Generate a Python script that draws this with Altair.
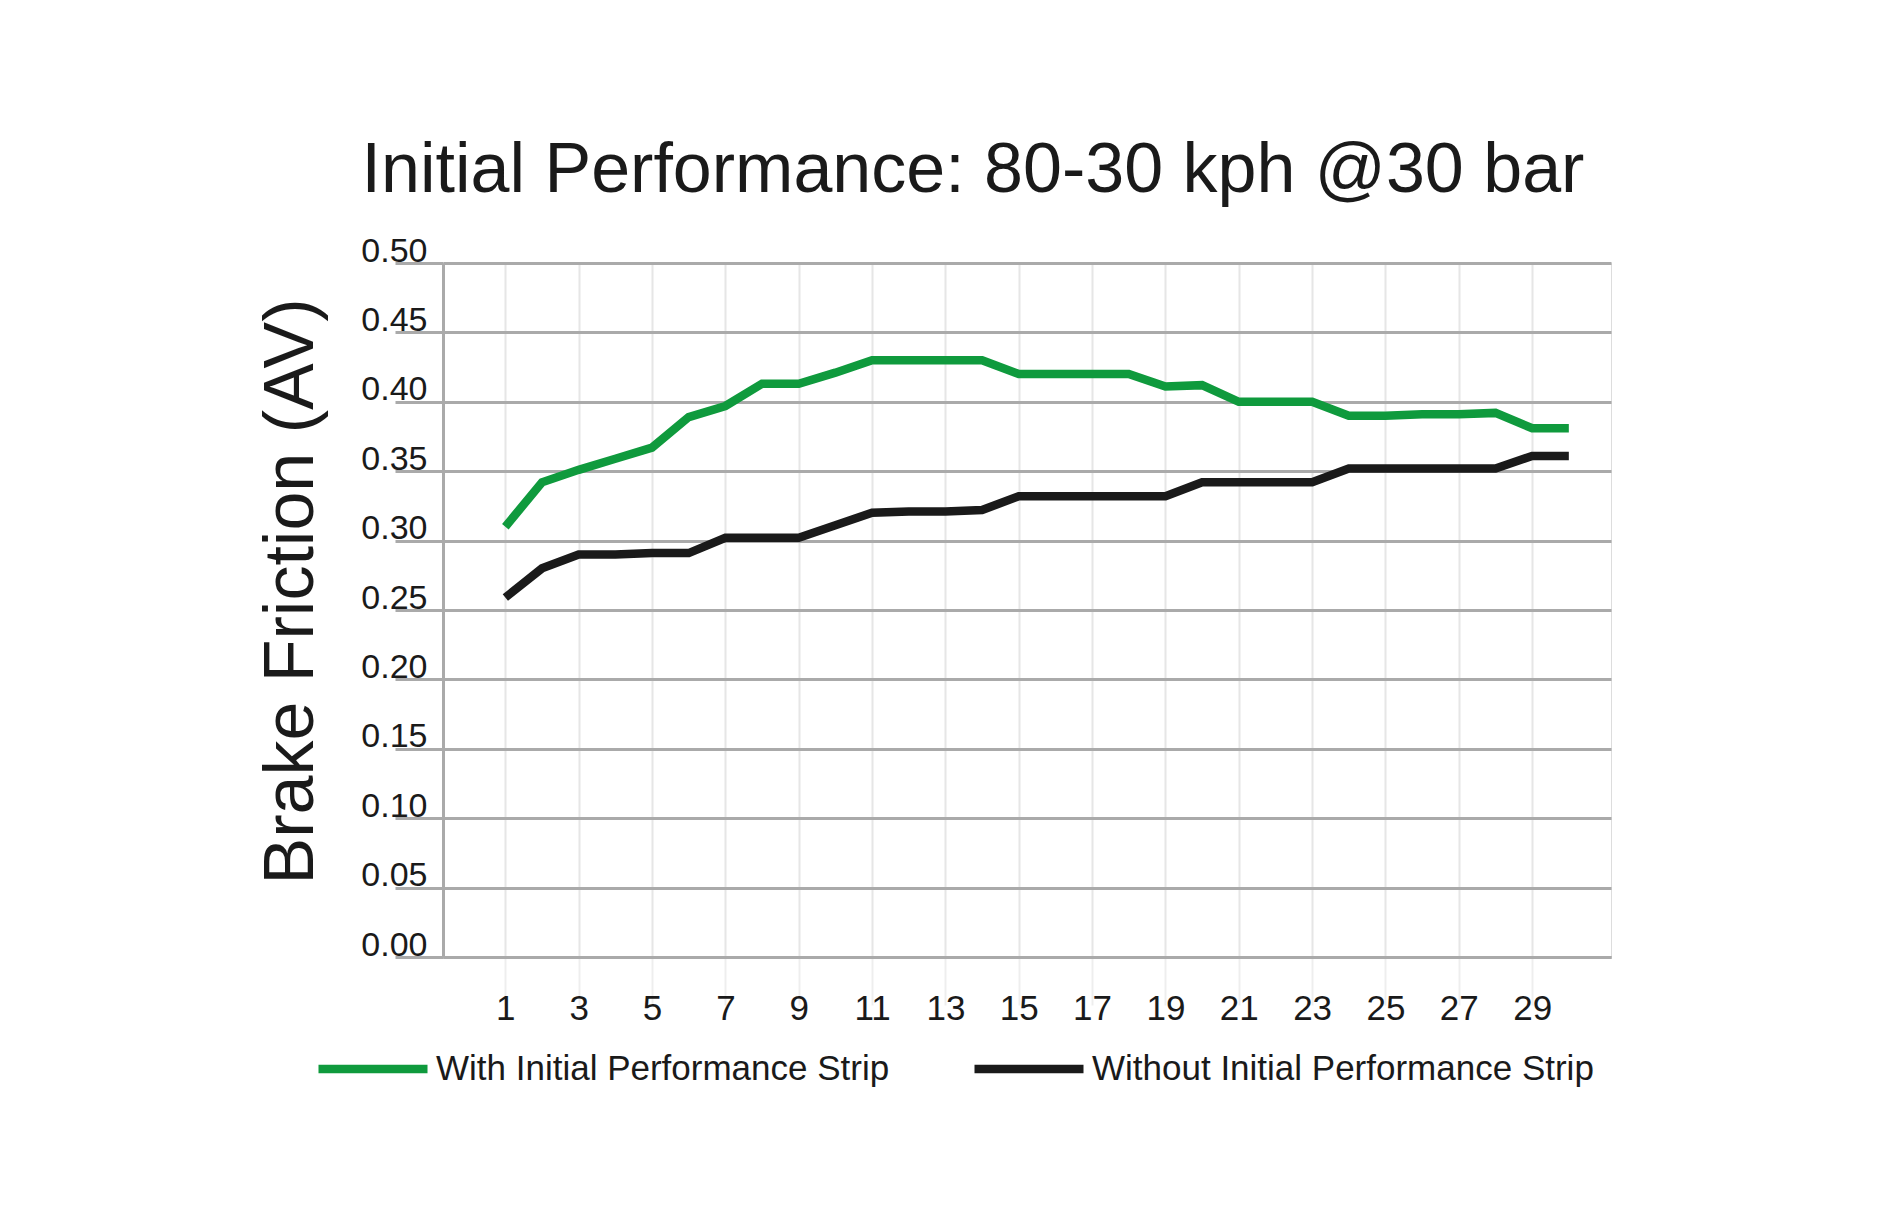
import altair as alt
import pandas as pd

runs = list(range(1, 31))
with_strip = [
    0.310, 0.342, 0.351, 0.359, 0.367, 0.389, 0.397, 0.413, 0.413, 0.421,
    0.430, 0.430, 0.430, 0.430, 0.420, 0.420, 0.420, 0.420, 0.411, 0.412,
    0.400, 0.400, 0.400, 0.390, 0.390, 0.391, 0.391, 0.392, 0.381, 0.381,
]
without_strip = [
    0.259, 0.280, 0.290, 0.290, 0.291, 0.291, 0.302, 0.302, 0.302, 0.311,
    0.320, 0.321, 0.321, 0.322, 0.332, 0.332, 0.332, 0.332, 0.332, 0.342,
    0.342, 0.342, 0.342, 0.352, 0.352, 0.352, 0.352, 0.352, 0.361, 0.361,
]
series = ["With Initial Performance Strip", "Without Initial Performance Strip"]
colors = ["#0f9a3d", "#1a1a1a"]
x_ticks = list(range(1, 30, 2))
y_ticks = [0.0, 0.05, 0.10, 0.15, 0.20, 0.25, 0.30, 0.35, 0.40, 0.45, 0.50]

df = pd.concat([
    pd.DataFrame({"run": runs, "friction": with_strip, "series": series[0]}),
    pd.DataFrame({"run": runs, "friction": without_strip, "series": series[1]}),
])

FONT = "Liberation Sans"

chart = (
    alt.Chart(df)
    .mark_line(strokeWidth=8.5, strokeJoin="miter")
    .encode(
        x=alt.X(
            "run:Q",
            title=None,
            scale=alt.Scale(domain=[-0.7, 31.15], nice=False, zero=False),
            axis=alt.Axis(
                values=x_ticks,
                grid=True,
                gridColor="#e6e6e6",
                gridWidth=2,
                domain=True,
                domainColor="#aaaaaa",
                domainWidth=3,
                ticks=True,
                tickColor="#eeeeee",
                tickWidth=2,
                tickSize=48,
                labelPadding=-14,
                labelFontSize=35,
                labelFont=FONT,
                labelColor="#1a1a1a",
                labelFlush=False,
            ),
        ),
        y=alt.Y(
            "friction:Q",
            title="Brake Friction (AV)",
            scale=alt.Scale(domain=[0, 0.5], nice=False),
            axis=alt.Axis(
                values=y_ticks,
                format=".2f",
                grid=True,
                gridColor="#aaaaaa",
                gridWidth=3,
                domainColor="#aaaaaa",
                domainWidth=3,
                tickColor="#aaaaaa",
                tickWidth=3,
                tickSize=48,
                labelPadding=-32,
                labelBaseline="alphabetic",
                labelOffset=-2,
                labelFontSize=34,
                labelFont=FONT,
                labelColor="#1a1a1a",
                labelFlush=False,
                titleFont=FONT,
                titleFontSize=70,
                titleFontWeight="normal",
                titleColor="#1a1a1a",
                titleX=-152,
                titleY=328,
                titleAlign="center",
                titleBaseline="middle",
            ),
        ),
        color=alt.Color(
            "series:N",
            scale=alt.Scale(domain=series, range=colors),
            legend=alt.Legend(
                title=None,
                orient="none",
                legendX=-129,
                legendY=747,
                direction="horizontal",
                symbolType="stroke",
                symbolSize=11881,
                symbolStrokeWidth=8.5,
                labelFontSize=35,
                labelFont=FONT,
                labelColor="#1a1a1a",
                labelOffset=4,
                columnPadding=67,
                labelLimit=800,
            ),
        ),
    )
    .properties(
        width=1168,
        height=694,
        title=alt.TitleParams(
            "Initial Performance: 80-30 kph @30 bar",
            font=FONT,
            fontSize=70,
            fontWeight="normal",
            color="#1a1a1a",
            anchor="middle",
            baseline="alphabetic",
            offset=68,
            dx=-54,
            dy=96,
        ),
        autosize=alt.AutoSizeParams(type="none"),
        padding={"left": 435, "top": 255, "right": 250, "bottom": 250},
    )
    .configure_view(stroke="#aaaaaa", strokeWidth=3)
    .configure(background="white")
)

chart.save("out.html", embed_options={"renderer": "svg", "actions": False})
